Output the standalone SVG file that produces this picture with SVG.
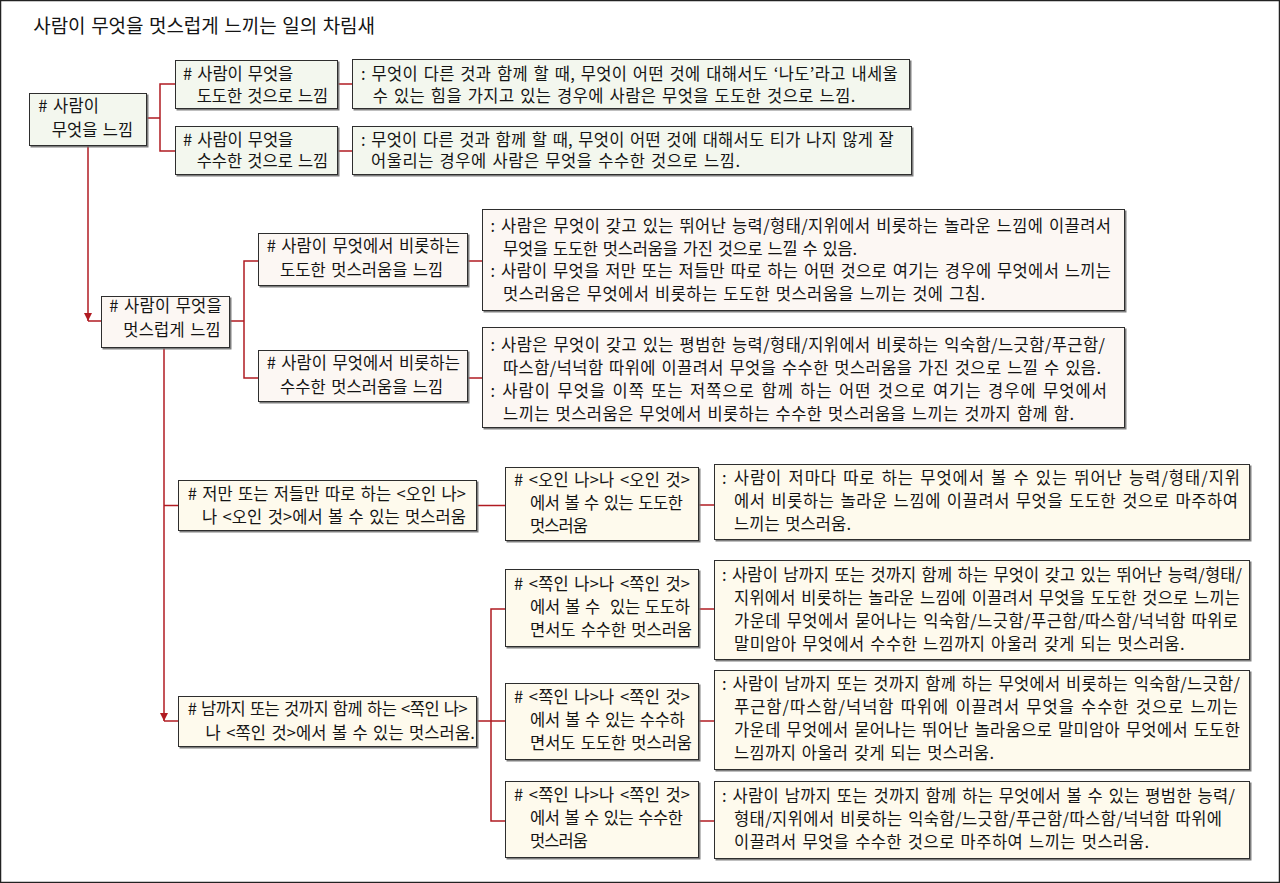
<svg xmlns="http://www.w3.org/2000/svg" width="1280" height="883" viewBox="0 0 1280 883">
<defs>
<filter id="sh" x="-5%" y="-5%" width="110%" height="120%">
<feDropShadow dx="1.5" dy="1.5" stdDeviation="0.4" flood-color="#6f6f6f" flood-opacity="0.9"/>
</filter>
<marker id="arr" markerUnits="userSpaceOnUse" viewBox="0 0 8 8" refX="8" refY="4" markerWidth="8" markerHeight="8" orient="auto">
<path d="M0,0 L8,4 L0,8 z" fill="#b01b22"/>
</marker>
</defs>
<style>
text{font-family:"Noto Sans CJK KR","Malgun Gothic",sans-serif;font-size:16.5px;fill:#141414;word-spacing:1.5px}
.box{stroke:#2e2e2e;stroke-width:1;filter:url(#sh)}
.g{fill:#f3f7ee}
.p{fill:#fcf7f3}
.c{fill:#fefaed}
.ln{fill:none;stroke:#b01b22;stroke-width:1.5}
</style>
<rect x="0.5" y="0.5" width="1279" height="882" fill="#ffffff" stroke="#222" stroke-width="1.5"/>
<text x="33.3" y="33" style="font-size:19px" textLength="341.7" lengthAdjust="spacing">사람이 무엇을 멋스럽게 느끼는 일의 차림새</text>

<g id="connectors">
<path class="ln" d="M146.5,118 H160 M175,84 H160 V151 H175"/>
<path class="ln" d="M337.5,84 H352.5"/>
<path class="ln" d="M337.5,151 H352.5"/>
<path class="ln" d="M88,146 V321" marker-end="url(#arr)"/>
<path class="ln" d="M88,321 H101"/>
<path class="ln" d="M229,321 H244 M258,261 H244 V378 H258"/>
<path class="ln" d="M467.5,261 H482.5"/>
<path class="ln" d="M467.5,378 H482.5"/>
<path class="ln" d="M164,347 V721" marker-end="url(#arr)"/>
<path class="ln" d="M164,505.5 H178"/>
<path class="ln" d="M164,721 H178"/>
<path class="ln" d="M476.5,505.5 H505.5"/>
<path class="ln" d="M698.5,505 H714"/>
<path class="ln" d="M476.5,721 H505.5 M505.5,609 H491 V821 H505.5"/>
<path class="ln" d="M698.5,609 H714"/>
<path class="ln" d="M698.5,721 H714"/>
<path class="ln" d="M698.5,821 H714"/>
</g>

<g id="root">
<rect class="box g" x="29.5" y="93.5" width="117" height="52"/>
<text x="38.3" y="112" textLength="60.7">#&#160;사람이</text>
<text x="51.7" y="135.5" textLength="81.6">무엇을 느낌</text>
</g>
<g id="b1">
<rect class="box g" x="175.5" y="60.5" width="162" height="48"/>
<text x="183" y="79.5" textLength="110.3"># 사람이 무엇을</text>
<text x="196.7" y="101.5" textLength="131.6">도도한 것으로 느낌</text>
</g>
<g id="b2">
<rect class="box g" x="175.5" y="126.5" width="162" height="48"/>
<text x="183" y="145.5" textLength="110.3"># 사람이 무엇을</text>
<text x="196.7" y="167" textLength="131.6">수수한 것으로 느낌</text>
</g>
<g id="d1">
<rect class="box g" x="352.5" y="59.5" width="557" height="49"/>
<text x="361" y="79.5" textLength="536.7">: 무엇이 다른 것과 함께 할 때, 무엇이 어떤 것에 대해서도 ‘나도’라고 내세울</text>
<text x="372.7" y="101.5" textLength="482.7">수 있는 힘을 가지고 있는 경우에 사람은 무엇을 도도한 것으로 느낌.</text>
</g>
<g id="d2">
<rect class="box g" x="352.5" y="126.5" width="559" height="48"/>
<text x="361" y="145.5" textLength="532.8">: 무엇이 다른 것과 함께 할 때, 무엇이 어떤 것에 대해서도 티가 나지 않게 잘</text>
<text x="371" y="167" textLength="369">어울리는 경우에 사람은 무엇을 수수한 것으로 느낌.</text>
</g>

<g id="m">
<rect class="box p" x="101.5" y="296.5" width="128" height="51"/>
<text x="109.3" y="312" textLength="112.4"># 사람이 무엇을</text>
<text x="123.3" y="335.5" textLength="97.4">멋스럽게 느낌</text>
</g>
<g id="sa">
<rect class="box p" x="258.5" y="233.5" width="209" height="52"/>
<text x="266.7" y="252" textLength="193.3"># 사람이 무엇에서 비롯하는</text>
<text x="280" y="276" textLength="163.3">도도한 멋스러움을 느낌</text>
</g>
<g id="sb">
<rect class="box p" x="258.5" y="350.5" width="209" height="51"/>
<text x="266.7" y="369" textLength="193.3"># 사람이 무엇에서 비롯하는</text>
<text x="280" y="393" textLength="163.3">수수한 멋스러움을 느낌</text>
</g>
<g id="da">
<rect class="box p" x="482.5" y="209.5" width="642" height="101"/>
<text x="490.4" y="232" textLength="620.6">: 사람은 무엇이 갖고 있는 뛰어난 능력/형태/지위에서 비롯하는 놀라운 느낌에 이끌려서</text>
<text x="503" y="254.5" textLength="354">무엇을 도도한 멋스러움을 가진 것으로 느낄 수 있음.</text>
<text x="490.4" y="277" textLength="620.6">: 사람이 무엇을 저만 또는 저들만 따로 하는 어떤 것으로 여기는 경우에 무엇에서 느끼는</text>
<text x="503" y="300" textLength="482">멋스러움은 무엇에서 비롯하는 도도한 멋스러움을 느끼는 것에 그침.</text>
</g>
<g id="db">
<rect class="box p" x="482.5" y="327.5" width="642" height="100"/>
<text x="490.4" y="351" textLength="614.6">: 사람은 무엇이 갖고 있는 평범한 능력/형태/지위에서 비롯하는 익숙함/느긋함/푸근함/</text>
<text x="503" y="374" textLength="598">따스함/넉넉함 따위에 이끌려서 무엇을 수수한 멋스러움을 가진 것으로 느낄 수 있음.</text>
<text x="490.4" y="397" textLength="616.6">: 사람이 무엇을 이쪽 또는 저쪽으로 함께 하는 어떤 것으로 여기는 경우에 무엇에서</text>
<text x="503" y="420" textLength="571">느끼는 멋스러움은 무엇에서 비롯하는 수수한 멋스러움을 느끼는 것까지 함께 함.</text>
</g>

<g id="j">
<rect class="box c" x="178.5" y="480.5" width="298" height="50"/>
<text x="187.7" y="500" textLength="278.3"># 저만 또는 저들만 따로 하는 &lt;오인 나&gt;</text>
<text x="202" y="523" textLength="264">나 &lt;오인 것&gt;에서 볼 수 있는 멋스러움</text>
</g>
<g id="o">
<rect class="box c" x="505.5" y="467.5" width="193" height="73"/>
<text x="514" y="485.5" textLength="176"># &lt;오인 나&gt;나 &lt;오인 것&gt;</text>
<text x="530" y="509" textLength="153">에서 볼 수 있는 도도한</text>
<text x="530" y="532" textLength="58">멋스러움</text>
</g>
<g id="dc">
<rect class="box c" x="714.5" y="464.5" width="535" height="75"/>
<text x="722" y="484" textLength="518">: 사람이 저마다 따로 하는 무엇에서 볼 수 있는 뛰어난 능력/형태/지위</text>
<text x="734" y="507" textLength="504">에서 비롯하는 놀라운 느낌에 이끌려서 무엇을 도도한 것으로 마주하여</text>
<text x="734" y="530" textLength="117">느끼는 멋스러움.</text>
</g>
<g id="n">
<rect class="box c" x="178.5" y="696.5" width="298" height="50"/>
<text x="187.7" y="715" textLength="280"># 남까지 또는 것까지 함께 하는 &lt;쪽인 나&gt;</text>
<text x="205.6" y="739" textLength="269.2">나 &lt;쪽인 것&gt;에서 볼 수 있는 멋스러움.</text>
</g>
<g id="p1">
<rect class="box c" x="505.5" y="569.5" width="193" height="77"/>
<text x="514" y="590" textLength="176"># &lt;쪽인 나&gt;나 &lt;쪽인 것&gt;</text>
<text x="530" y="613" textLength="160" xml:space="preserve">에서 볼 수  있는 도도하</text>
<text x="530" y="636" textLength="162">면서도 수수한 멋스러움</text>
</g>
<g id="p2">
<rect class="box c" x="505.5" y="683.5" width="193" height="76"/>
<text x="514" y="703" textLength="176"># &lt;쪽인 나&gt;나 &lt;쪽인 것&gt;</text>
<text x="530" y="726" textLength="155">에서 볼 수 있는 수수하</text>
<text x="530" y="749" textLength="162">면서도 도도한 멋스러움</text>
</g>
<g id="p3">
<rect class="box c" x="505.5" y="781.5" width="193" height="76"/>
<text x="514" y="801" textLength="176"># &lt;쪽인 나&gt;나 &lt;쪽인 것&gt;</text>
<text x="530" y="824" textLength="153">에서 볼 수 있는 수수한</text>
<text x="530" y="847" textLength="58">멋스러움</text>
</g>
<g id="dd">
<rect class="box c" x="714.5" y="560.5" width="535" height="99"/>
<text x="722" y="581" textLength="520">: 사람이 남까지 또는 것까지 함께 하는 무엇이 갖고 있는 뛰어난 능력/형태/</text>
<text x="734" y="604" textLength="506">지위에서 비롯하는 놀라운 느낌에 이끌려서 무엇을 도도한 것으로 느끼는</text>
<text x="734" y="627" textLength="504">가운데 무엇에서 묻어나는 익숙함/느긋함/푸근함/따스함/넉넉함 따위로</text>
<text x="734" y="650" textLength="450.6">말미암아 무엇에서 수수한 느낌까지 아울러 갖게 되는 멋스러움.</text>
</g>
<g id="de">
<rect class="box c" x="714.5" y="670.5" width="535" height="99"/>
<text x="722" y="690" textLength="518">: 사람이 남까지 또는 것까지 함께 하는 무엇에서 비롯하는 익숙함/느긋함/</text>
<text x="734" y="713" textLength="504">푸근함/따스함/넉넉함 따위에 이끌려서 무엇을 수수한 것으로 느끼는</text>
<text x="734" y="736" textLength="506">가운데 무엇에서 묻어나는 뛰어난 놀라움으로 말미암아 무엇에서 도도한</text>
<text x="734" y="759" textLength="260">느낌까지 아울러 갖게 되는 멋스러움.</text>
</g>
<g id="df">
<rect class="box c" x="714.5" y="781.5" width="535" height="77"/>
<text x="722" y="802" textLength="513">: 사람이 남까지 또는 것까지 함께 하는 무엇에서 볼 수 있는 평범한 능력/</text>
<text x="734" y="825" textLength="488">형태/지위에서 비롯하는 익숙함/느긋함/푸근함/따스함/넉넉함 따위에</text>
<text x="734" y="848" textLength="415">이끌려서 무엇을 수수한 것으로 마주하여 느끼는 멋스러움.</text>
</g>
</svg>
